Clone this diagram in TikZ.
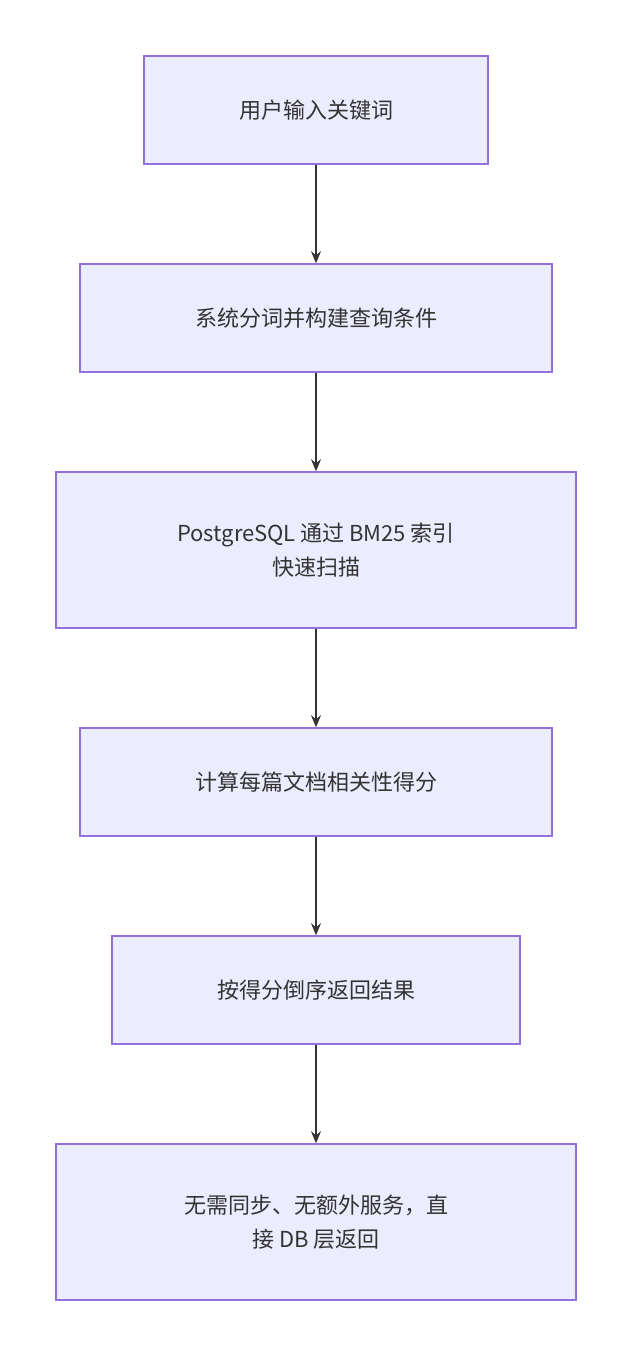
\documentclass[tikz,border=0pt]{standalone}
\usepackage{fontspec}
\setmainfont{Noto Sans CJK SC}
\usetikzlibrary{positioning,arrows.meta}
\definecolor{boxfill}{HTML}{ECECFF}
\definecolor{boxline}{HTML}{9370DB}
\definecolor{edge}{HTML}{333333}
\tikzset{
  stage/.style={draw=boxline, fill=boxfill, line width=1.5pt, minimum height=108pt,
    align=center, text=edge, font=\fontsize{22}{34}\selectfont, inner sep=0pt},
  flow/.style={draw=edge, line width=1.5pt, -{Stealth[length=12pt,width=10pt]}},
}
\begin{document}
\begin{tikzpicture}
  \useasboundingbox (0,0) rectangle (632pt,-1356pt);

  % ---------- stages ----------
  \node[stage, minimum width=344pt] (input) at (316pt,-110pt) {用户输入关键词};
  \node[stage, minimum width=472pt] (parse) at (316pt,-318pt) {系统分词并构建查询条件};
  \node[stage, minimum width=520pt, minimum height=156pt] (scan) at (316pt,-550pt)
    {PostgreSQL 通过 BM25 索引\\快速扫描};
  \node[stage, minimum width=472pt] (score) at (316pt,-782pt) {计算每篇文档相关性得分};
  \node[stage, minimum width=408pt] (sort) at (316pt,-990pt) {按得分倒序返回结果};
  \node[stage, minimum width=520pt, minimum height=156pt] (done) at (316pt,-1222pt)
    {无需同步、无额外服务，直\\接 DB 层返回};

  % ---------- arrows ----------
  \draw[flow] (input) -- (parse);
  \draw[flow] (parse) -- (scan);
  \draw[flow] (scan) -- (score);
  \draw[flow] (score) -- (sort);
  \draw[flow] (sort) -- (done);
\end{tikzpicture}
\end{document}
